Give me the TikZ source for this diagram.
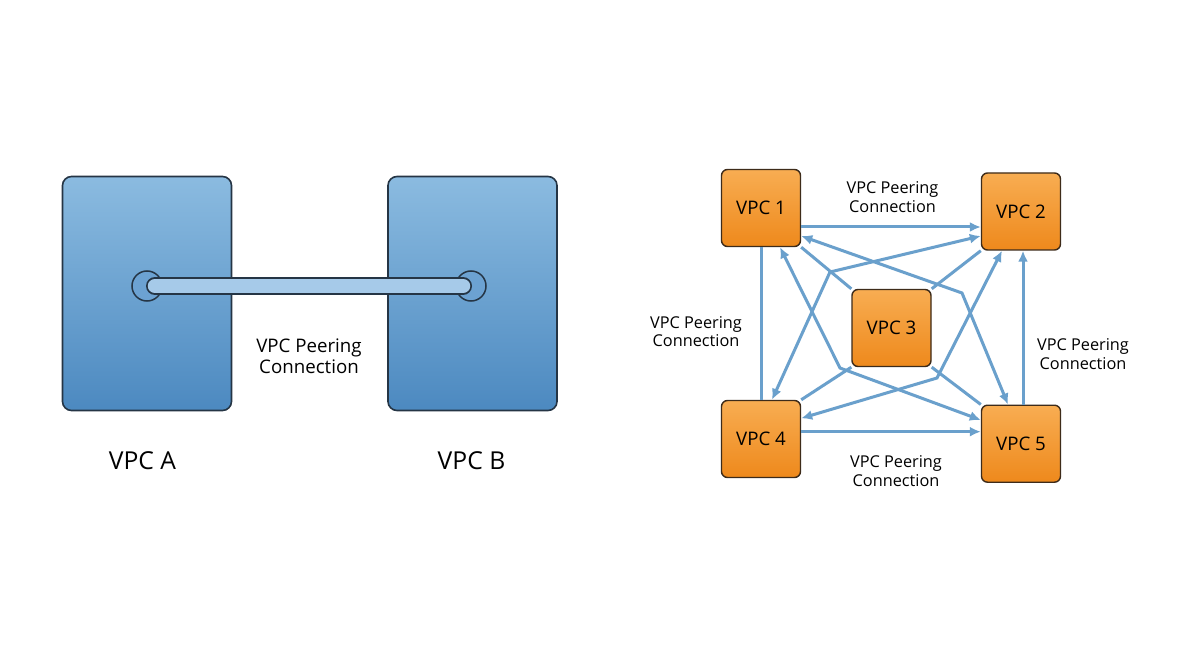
\documentclass[tikz,border=0pt]{standalone}
\usepackage{fontspec}
\setmainfont{Open Sans}
\usepackage{xcolor}
\usepackage{tikz}
\usetikzlibrary{positioning}
\usetikzlibrary{arrows.meta}

\definecolor{boxtop}{HTML}{8BBBE0}
\definecolor{boxbottom}{HTML}{4C89C0}
\definecolor{boxedge}{HTML}{253545}
\definecolor{tubeblue}{HTML}{A6CAE9}
\definecolor{portblue}{HTML}{6CA2D2}
\definecolor{vpctop}{HTML}{F8AD52}
\definecolor{vpcbottom}{HTML}{EE891C}
\definecolor{vpcedge}{HTML}{3D2B1A}
\definecolor{linkblue}{HTML}{6AA0CC}

\tikzset{
  bigvpc/.style={draw=boxedge, line width=1.6pt, rounded corners=9pt,
    top color=boxtop, bottom color=boxbottom,
    minimum width=169pt, minimum height=234pt},
  port/.style={circle, draw=boxedge, line width=1.5pt, fill=portblue,
    minimum size=30pt, inner sep=0pt},
  vpc/.style={draw=vpcedge, line width=1.4pt, rounded corners=6pt,
    top color=vpctop, bottom color=vpcbottom,
    minimum width=79pt, minimum height=77pt,
    font=\fontsize{18.7}{22}\selectfont},
  peer/.style={linkblue, line width=3pt},
  peerlabel/.style={align=center, font=\fontsize{16.3}{18.8}\selectfont},
}

\begin{document}
\begin{tikzpicture}[x=1pt, y=-1pt, >={Latex[length=11pt,width=10pt]}]

\fill[white] (0,0) rectangle (1200,655);
\useasboundingbox (0,0) rectangle (1200,655);

% one peering link
\node[bigvpc] (A) at (147,293.5) {};
\node[bigvpc] (B) at (472.5,293.5) {};

\node[port] (pA) at (147,286) {};
\node[port] (pB) at (471,286) {};

\draw [boxedge, line width=18pt, line cap=round] ([xshift=8pt]pA.center) -- ([xshift=-8pt]pB.center);
\draw [tubeblue, line width=14.5pt, line cap=round] ([xshift=8pt]pA.center) -- ([xshift=-8pt]pB.center);

\node[align=center, font=\fontsize{18.7}{21.5}\selectfont] (l0) at (309,356) {VPC Peering\\Connection};
\node[font=\fontsize{24.7}{28}\selectfont] (a) at (142.5,460.5) {VPC A};
\node[font=\fontsize{24.7}{28}\selectfont] (b) at (471.5,460.5) {VPC B};

% full mesh
\node[vpc] (v1) at (761,208) {VPC 1};
\node[vpc] (v2) at (1021,211.5) {VPC 2};
\node[vpc] (v3) at (891.5,328) {VPC 3};
\node[vpc] (v4) at (761,439) {VPC 4};
\node[vpc] (v5) at (1021,443.7) {VPC 5};

\coordinate (M) at (962,293);
\coordinate (N) at (840,368);
\coordinate (P) at (830,272);
\coordinate (Q) at (937,378);

\draw [peer, ->] ([yshift=-19pt]v1.east) -- ([yshift=-15.5pt]v2.west);
\draw [peer, ->] ([xshift=2pt]v5.north) -- ([xshift=2pt]v2.south);
\draw [peer, ->] ([yshift=7.3pt]v4.east) -- ([yshift=12pt]v5.west);
\draw [peer] (v1.south) -- (v4.north);

\draw [peer, <->] ([yshift=-28pt]v1.east) -- (M) -- ([xshift=-13pt]v5.north);
\draw [peer, <->] ([xshift=19pt]v1.south) -- (N) -- ([yshift=23.7pt]v5.west);
\draw [peer, <->] ([xshift=11pt]v4.north) -- (P) -- ([yshift=-24.5pt]v2.west);
\draw [peer, <->] ([yshift=20.7pt]v4.east) -- (Q) -- ([xshift=-19pt]v2.south);

\draw [peer] (v3.north west) -- (v1.south east);
\draw [peer] (v3.north east) -- (v2.south west);
\draw [peer] (v3.south west) -- (v4.north east);
\draw [peer] (v3.south east) -- (v5.north west);

\node[peerlabel] (l1) at (892.5,196.7) {VPC Peering\\Connection};
\node[peerlabel] (l2) at (696,331.5) {VPC Peering\\Connection};
\node[peerlabel] (l3) at (1083,354) {VPC Peering\\Connection};
\node[peerlabel] (l4) at (896,471) {VPC Peering\\Connection};

\end{tikzpicture}
\end{document}
